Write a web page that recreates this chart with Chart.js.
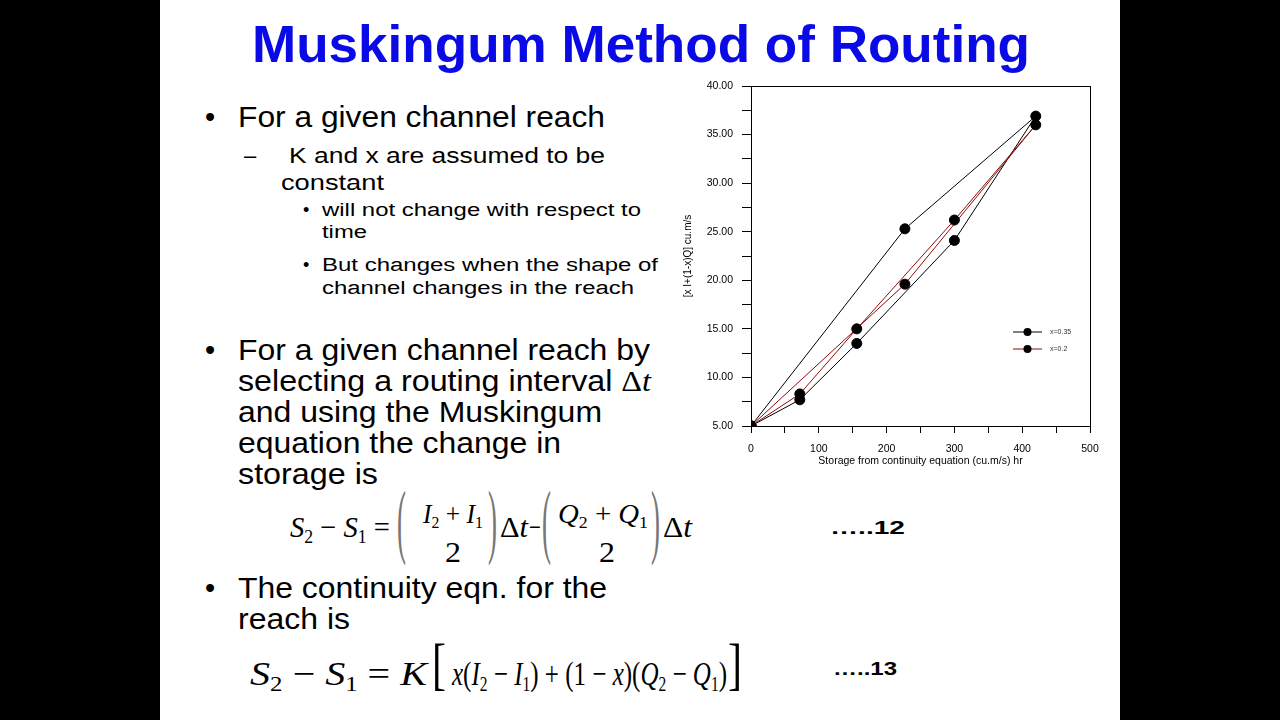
<!DOCTYPE html>
<html>
<head>
<meta charset="utf-8">
<script src="https://cdn.jsdelivr.net/npm/chart.js@4.4.1/dist/chart.umd.min.js"></script>
<style>
  html, body { margin: 0; padding: 0; }
  body { width: 1280px; height: 720px; background: #000; position: relative; overflow: hidden; }
  #slide { position: absolute; left: 160px; top: 0; width: 960px; height: 720px; background: #fff; }
  .t { position: absolute; white-space: nowrap; line-height: 1; font-family: "Liberation Sans", Arial, sans-serif; color: #000; transform-origin: left center; }
  .serif { font-family: "Liberation Serif", "Times New Roman", serif; }
  .s { font-size: 0.62em; position: relative; top: 0.32em; }
  .paren { color: #777; }
  #title { color: #0a0ae6; font-weight: bold; font-size: 52px; }
  .l1 { font-size: 29px; }
  .l2 { font-size: 22px; }
  .l3 { font-size: 18px; }
  .dots { font-weight: bold; font-size: 18px; }
  #chartBox { position: absolute; left: 680px; top: 70px; width: 430px; height: 400px; }
</style>
</head>
<body>
<div id="slide"></div>

<div class="t" id="title" data-b="62" style="left:252px" data-w="778">Muskingum Method of Routing</div>

<div class="t l1" data-b="128" style="left:205px">•</div>
<div class="t l1" data-b="128" style="left:238px" data-w="367">For a given channel reach</div>
<div class="t l2" data-b="164" style="left:244px">–</div>
<div class="t l2" data-b="164" style="left:289px" data-w="316">K and x are assumed to be</div>
<div class="t l2" data-b="191" style="left:281px" data-w="103">constant</div>
<div class="t l3" data-b="216" style="left:303px">•</div>
<div class="t l3" data-b="216" style="left:322px" data-w="319">will not change with respect to</div>
<div class="t l3" data-b="238" style="left:322px" data-w="45">time</div>
<div class="t l3" data-b="271" style="left:303px">•</div>
<div class="t l3" data-b="271" style="left:322px" data-w="336">But changes when the shape of</div>
<div class="t l3" data-b="294" style="left:322px" data-w="312">channel changes in the reach</div>

<div class="t l1" data-b="361" style="left:205px">•</div>
<div class="t l1" data-b="361" style="left:238px" data-w="412">For a given channel reach by</div>
<div class="t l1" data-b="392" style="left:238px" data-w="413">selecting a routing interval <span class="serif">Δ<i>t</i></span></div>
<div class="t l1" data-b="423" style="left:238px" data-w="364">and using the Muskingum</div>
<div class="t l1" data-b="454" style="left:238px" data-w="323">equation the change in</div>
<div class="t l1" data-b="485" style="left:238px" data-w="140">storage is</div>

<!-- equation 12 -->
<div class="t serif" data-b="537" style="left:290px;font-size:30px" data-w="100"><i>S</i><span class="s">2</span> − <i>S</i><span class="s">1</span> =</div>
<div class="t serif paren" data-b="549" style="left:397px;font-size:82px" data-w="9">(</div>
<div class="t serif" data-b="523" style="left:423px;font-size:28px" data-w="60"><i>I</i><span class="s">2</span> + <i>I</i><span class="s">1</span></div>
<div class="t serif" data-b="562" style="left:445px;font-size:30px" data-w="16">2</div>
<div class="t serif paren" data-b="549" style="left:488px;font-size:82px" data-w="9">)</div>
<div class="t serif" data-b="537" style="left:500px;font-size:30px" data-w="28">Δ<i>t</i></div>
<div class="t serif" data-b="537" style="left:529px;font-size:30px" data-w="12">−</div>
<div class="t serif paren" data-b="549" style="left:542px;font-size:82px" data-w="9">(</div>
<div class="t serif" data-b="523" style="left:558px;font-size:28px" data-w="90"><i>Q</i><span class="s">2</span> + <i>Q</i><span class="s">1</span></div>
<div class="t serif" data-b="562" style="left:599px;font-size:30px" data-w="16">2</div>
<div class="t serif paren" data-b="549" style="left:651px;font-size:82px" data-w="9">)</div>
<div class="t serif" data-b="537" style="left:663px;font-size:30px" data-w="29">Δ<i>t</i></div>
<div class="t dots" data-b="534" style="left:830px" data-w="75">…..12</div>

<div class="t l1" data-b="599" style="left:205px">•</div>
<div class="t l1" data-b="599" style="left:238px" data-w="369">The continuity eqn. for the</div>
<div class="t l1" data-b="630" style="left:238px" data-w="112">reach is</div>

<!-- equation 13 -->
<div class="t serif" data-b="685" style="left:250px;font-size:34px" data-w="177"><i>S</i><span class="s">2</span> − <i>S</i><span class="s">1</span> = <i>K</i></div>
<div class="t serif" data-b="684" style="left:432px;font-size:58px" data-w="14">[</div>
<div class="t serif" data-b="685" style="left:452px;font-size:34px" data-w="275"><i>x</i>(<i>I</i><span class="s">2</span> − <i>I</i><span class="s">1</span>) + (1 − <i>x</i>)(<i>Q</i><span class="s">2</span> − <i>Q</i><span class="s">1</span>)</div>
<div class="t serif" data-b="684" style="left:728px;font-size:58px" data-w="14">]</div>
<div class="t dots" data-b="675" style="left:833px" data-w="64">…..13</div>

<div id="chartBox"><canvas id="loopChart" width="430" height="400"></canvas></div>

<script>
// storage from continuity equation, (cu.m/s) hr, in time order
const storage = [0, 227, 420, 300, 156, 72, 0];
// weighted flow [xI+(1-x)Q], cu.m/s
const flowX035 = [5.0, 25.3, 36.9, 24.1, 13.5, 7.7, 5.0];
const flowX02 = [5.0, 19.6, 36.0, 26.2, 15.0, 8.3, 5.0];
const seriesLabels = ['x=0.35', 'x=0.2'];
const xTickLabels = [0, 100, 200, 300, 400, 500];
const yTickLabels = [5, 10, 15, 20, 25, 30, 35, 40];

// place text lines on their baselines and stretch them to the measured widths
document.querySelectorAll('.t').forEach(el => {
    const fs = parseFloat(getComputedStyle(el).fontSize);
    const k = el.classList.contains('serif') ? 0.8375 : 0.8465;
    el.style.top = (+el.dataset.b - k * fs) + 'px';
    if (el.dataset.w) {
        const w = el.getBoundingClientRect().width;
        el.style.transform = `scaleX(${+el.dataset.w / w})`;
    }
});

const toPoints = ys => storage.map((s, i) => ({ x: s, y: ys[i] }));

const frame = {
    id: 'frame',
    afterDraw(chart) {
        const { ctx, chartArea: a } = chart;
        ctx.save();
        ctx.strokeStyle = '#000';
        ctx.lineWidth = 1;
        ctx.strokeRect(a.left + 0.5, a.top + 0.5, a.right - a.left, a.bottom - a.top);
        ctx.restore();
    }
};

// small legend drawn inside the plot, read from the datasets
const insideLegend = {
    id: 'insideLegend',
    afterDraw(chart) {
        const { ctx, chartArea: a } = chart;
        chart.data.datasets.forEach((ds, i) => {
            const x0 = a.left + 262;
            const y = a.top + 246 + i * 17;
            ctx.save();
            ctx.strokeStyle = ds.borderColor;
            ctx.lineWidth = 1;
            ctx.beginPath();
            ctx.moveTo(x0, y);
            ctx.lineTo(x0 + 29, y);
            ctx.stroke();
            ctx.fillStyle = '#000';
            ctx.beginPath();
            ctx.arc(x0 + 14.5, y, 4, 0, Math.PI * 2);
            ctx.fill();
            ctx.font = '7px "Liberation Sans", Arial';
            ctx.fillStyle = '#333';
            ctx.textBaseline = 'middle';
            ctx.fillText(ds.label, x0 + 37, y);
            ctx.restore();
        });
    }
};

new Chart(document.getElementById('loopChart'), {
    type: 'scatter',
    data: {
        datasets: [{
            label: seriesLabels[0],
            data: toPoints(flowX035),
            showLine: true,
            borderColor: '#000',
            borderWidth: 1,
            pointRadius: 5,
            pointBackgroundColor: '#000',
            pointBorderColor: '#000',
            order: 2
        }, {
            label: seriesLabels[1],
            data: toPoints(flowX02),
            showLine: true,
            borderColor: '#8e0c0c',
            borderWidth: 1,
            pointRadius: 5,
            pointBackgroundColor: '#000',
            pointBorderColor: '#000',
            order: 1
        }]
    },
    options: {
        responsive: false,
        animation: false,
        layout: { padding: { top: 16, right: 20, left: 0, bottom: 0 } },
        plugins: { legend: { display: false }, tooltip: { enabled: false } },
        scales: {
            x: {
                type: 'linear',
                min: 0,
                max: 500,
                afterFit: s => { s.height = 44; },
                ticks: {
                    stepSize: 50,
                    autoSkip: false,
                    maxRotation: 0,
                    padding: 10,
                    color: '#000',
                    font: { family: '"Liberation Sans", Arial', size: 10.5 },
                    callback: v => xTickLabels.includes(v) ? String(v) : ''
                },
                grid: { drawOnChartArea: false, drawTicks: true, tickLength: 7, color: '#000' },
                border: { color: '#000', width: 1 },
                title: {
                    display: true,
                    text: 'Storage from continuity equation (cu.m/s) hr',
                    color: '#000',
                    font: { family: '"Liberation Sans", Arial', size: 10.5 },
                    padding: { top: 0, bottom: 3 }
                }
            },
            y: {
                min: 5,
                max: 40,
                afterFit: s => { s.width = 71; },
                ticks: {
                    stepSize: 2.5,
                    autoSkip: false,
                    padding: 9,
                    color: '#000',
                    font: { family: '"Liberation Sans", Arial', size: 10.5 },
                    callback: v => yTickLabels.includes(v) ? v.toFixed(2) : ''
                },
                grid: { drawOnChartArea: false, drawTicks: true, tickLength: 9, color: '#000' },
                border: { color: '#000', width: 1 },
                title: {
                    display: true,
                    text: '[x I+(1-x)Q] cu.m/s',
                    color: '#000',
                    font: { family: '"Liberation Sans", Arial', size: 10 },
                    padding: { top: 2, bottom: 0 }
                }
            }
        }
    },
    plugins: [frame, insideLegend]
});
</script>
</body>
</html>
